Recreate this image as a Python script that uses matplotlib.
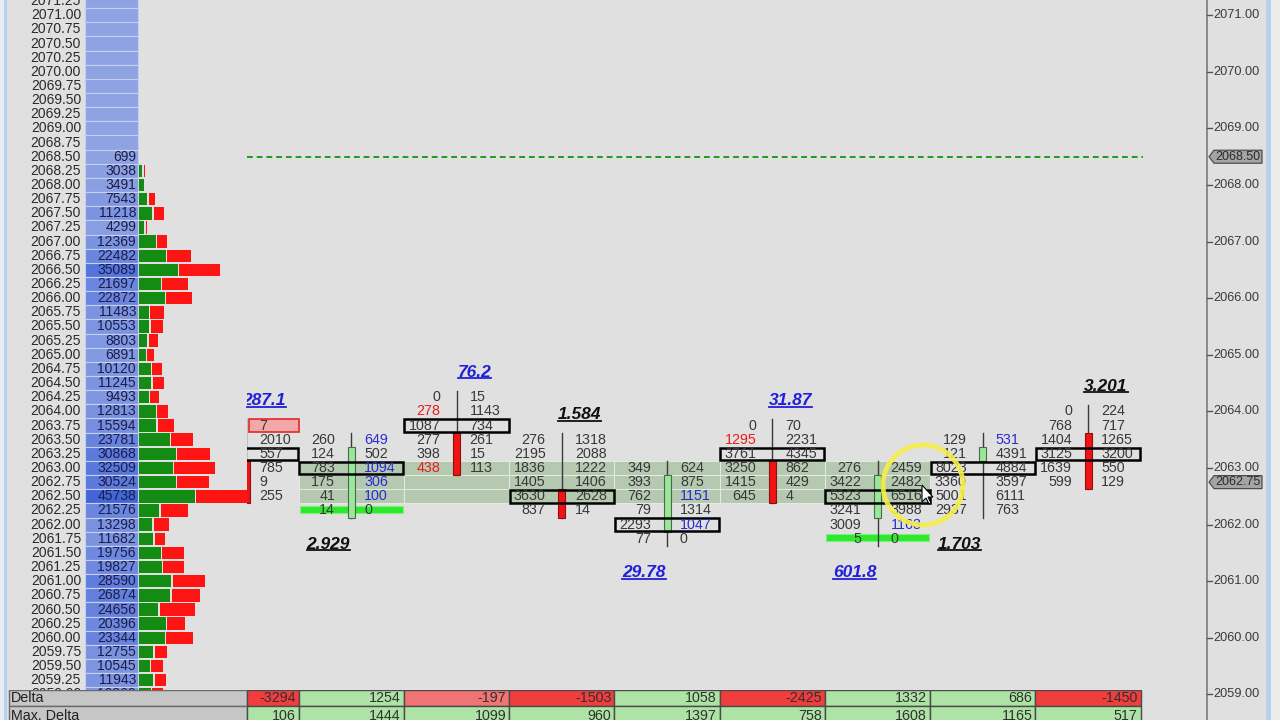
import matplotlib
matplotlib.use('Agg')
import matplotlib.pyplot as plt
from matplotlib.patches import Rectangle, Polygon, Ellipse
from matplotlib.lines import Line2D
from matplotlib.transforms import IdentityTransform
import numpy as np

plt.rcParams['font.family'] = ['Liberation Sans', 'DejaVu Sans']

# price scale of the screen: 2063.00 sits at pixel row 468, 56.6 px per point
TICK = 0.25
PX_PER_PT = 56.6
REF_PRICE, REF_PX = 2063.0, 468
P_TOP = REF_PRICE + REF_PX / PX_PER_PT
P_BOT = REF_PRICE - (720 - REF_PX) / PX_PER_PT

def py2p(py):
    return REF_PRICE - (py - REF_PX) / PX_PER_PT

# ---------------- volume profile (left) ----------------
prof_top_empty = 2071.25          # rows above the traded range, no volume
prof_first = 2068.50              # first traded price, then going down
prof_vol = [699, 3038, 3491, 7543, 11218, 4299, 12369, 22482, 35089, 21697,
            22872, 11483, 10553, 8803, 6891, 10120, 11245, 9493, 12813, 15594,
            23781, 30868, 32509, 30524, 45738, 21576, 13298, 11682, 19756, 19827,
            28590, 26874, 24656, 20396, 23344, 12755, 10545, 11943, 10860]
prof_buy = [0, 1400, 2270, 3560, 5580, 2270, 7120, 11580, 16600, 9310,
            11150, 4160, 4420, 3560, 3000, 5020, 5150, 4160, 7160, 7420,
            13170, 15740, 14460, 15870, 23900, 8710, 5710, 6010, 9310, 9740,
            13860, 13430, 8280, 11580, 11150, 6130, 4590, 6010, 5000]
prof_sell = [0, 560, 200, 2700, 4590, 730, 4290, 9870, 17590, 11280,
             11030, 6130, 5020, 3990, 2700, 3990, 5020, 3990, 4850, 6990,
             9440, 14160, 17590, 13730, 21580, 11710, 6560, 4420, 9310, 9010,
             13730, 12140, 15140, 7720, 11450, 5280, 5020, 4850, 4500]

# ---------------- footprint bars ----------------
bar_top = [2063.75, 2063.50, 2064.25, 2063.50, 2063.00, 2063.75, 2063.00, 2063.50, 2064.00]
bar_bid = [[None] * 6,
           [260, 124, 783, 175, 41, 14],
           [0, 278, 1087, 277, 398, 438],
           [276, 2195, 1836, 1405, 3630, 837],
           [349, 393, 762, 79, 2293, 77],
           [0, 1295, 3761, 3250, 1415, 645],
           [276, 3422, 5323, 3241, 3009, 5],
           [129, 121, 8023, 3360, 5001, 2937],
           [0, 768, 1404, 3125, 1639, 599]]
bar_ask = [[7, 2010, 557, 785, 9, 255],
           [649, 502, 1094, 306, 100, 0],
           [15, 1143, 734, 261, 15, 113],
           [1318, 2088, 1222, 1406, 2628, 14],
           [624, 875, 1151, 1314, 1047, 0],
           [70, 2231, 4345, 862, 429, 4],
           [2459, 2482, 6516, 3988, 1163, 0],
           [531, 4391, 4884, 3597, 6111, 763],
           [224, 717, 1265, 3200, 550, 129]]
bar_open = [2063.00, 2062.25, 2063.50, 2062.50, 2062.00, 2063.00, 2062.25, 2063.25, 2063.50]
bar_close = [2062.50, 2063.25, 2063.00, 2062.25, 2062.75, 2062.50, 2062.75, 2063.25, 2062.75]
bar_poc = [2063.25, 2063.00, 2063.75, 2062.50, 2062.00, 2063.25, 2062.50, 2063.00, 2063.25]
bar_label = ['287.1', '2.929', '76.2', '1.584', '29.78', '31.87', '601.8', '1.703', '3.201']
bar_label_blue = [True, False, True, False, True, True, True, False, False]
bar_label_above = [True, False, True, True, False, True, False, False, True]

red_cells = [(2, 'bid', 1), (2, 'bid', 5), (5, 'bid', 1)]
blue_cells = [(1, 'ask', 0), (1, 'ask', 2), (1, 'ask', 3), (1, 'ask', 4),
              (4, 'ask', 2), (4, 'ask', 4), (6, 'ask', 4), (7, 'ask', 0)]
imbalance_cells = [(0, 'ask', 0)]
low_strips = [(1, 5), (6, 5)]
shaded_bars = [1, 2, 3, 4, 5, 6]
shaded_prices = [2063.00, 2062.75, 2062.50]

delta = [-3294, 1254, -197, -1503, 1058, -2425, 1332, 686, -1450]
max_delta = [106, 1444, 1099, 960, 1397, 758, 1608, 1165, 517]

axis_prices = [2059, 2060, 2061, 2062, 2063, 2064, 2065, 2066, 2067, 2068, 2069, 2070, 2071]
marker_prices = [2068.50, 2062.75]
session_line = 2068.50

BG = '#e0e0e0'
X0_BAR, BAR_W = 246.0, 105.25
FP_LEFT, FP_RIGHT = 247, 1207

fig = plt.figure(figsize=(12.8, 7.2), dpi=100)
fig.patch.set_facecolor(BG)
ax = fig.add_axes([0, 0, 1, 1])
ax.set_xlim(0, 1280); ax.set_ylim(P_BOT, P_TOP); ax.axis('off')
ax_fp = fig.add_axes([FP_LEFT / 1280, 0, (FP_RIGHT - FP_LEFT) / 1280, 1])
ax_fp.set_xlim(FP_LEFT, FP_RIGHT); ax_fp.set_ylim(P_BOT, P_TOP); ax_fp.axis('off')
ax_fp.patch.set_alpha(0)

# window edges
ax.add_patch(Rectangle((0, P_BOT), 4, P_TOP - P_BOT, color='#e8eef6', lw=0))
ax.add_patch(Rectangle((4, P_BOT), 3, P_TOP - P_BOT, color='#b8d0ec', lw=0))
ax.add_patch(Rectangle((1266, P_BOT), 5, P_TOP - P_BOT, color='#b8d0ec', lw=0))
ax.add_patch(Rectangle((1271, P_BOT), 9, P_TOP - P_BOT, color='#ececec', lw=0))

# ---- profile ----
PROF_SCALE = 1 / 429.0
light = np.array([0.56, 0.64, 0.89])
dark = np.array([0.26, 0.40, 0.85])
vmax = max(prof_vol)
p = prof_top_empty
while p > prof_first + 1e-9:
    ax.add_patch(Rectangle((85, p - TICK / 2), 53, TICK, fc=light, ec='#c6d0ee', lw=0.8))
    ax.text(81, p, '%.2f' % p, ha='right', va='center', fontsize=10, color='#2a2a2a')
    p -= TICK
for i, v in enumerate(prof_vol):
    p = prof_first - i * TICK
    f = v / vmax
    ax.add_patch(Rectangle((85, p - TICK / 2), 53, TICK, fc=light * (1 - f) + dark * f,
                           ec='#c6d0ee', lw=0.8))
    ax.text(81, p, '%.2f' % p, ha='right', va='center', fontsize=10, color='#2a2a2a')
    ax.text(136, p, str(v), ha='right', va='center', fontsize=10, color='#1c1c48')
    gw = prof_buy[i] * PROF_SCALE
    rw = prof_sell[i] * PROF_SCALE
    if gw > 0:
        ax.add_patch(Rectangle((139, p - 0.11), gw, 0.22, fc='#148c14', lw=0))
    if rw > 0:
        ax.add_patch(Rectangle((139 + gw + 1.5, p - 0.11), rw, 0.22, fc='#ff1414', lw=0))

# ---- footprint ----
ax_fp.plot([FP_LEFT, 1143], [session_line, session_line], color='#1f9a1f', lw=1.4,
           ls=(0, (3, 2)))

for b in shaded_bars:
    cx = X0_BAR + b * BAR_W
    for sp in shaded_prices:
        ax_fp.add_patch(Rectangle((cx - BAR_W / 2, sp - TICK / 2), BAR_W, TICK,
                                  fc='#b5c9b1', ec='#e4ebe2', lw=0.7))

for b, r in low_strips:
    cx = X0_BAR + b * BAR_W
    pr = bar_top[b] - r * TICK
    ax_fp.add_patch(Rectangle((cx - BAR_W / 2 + 1, pr - 0.045), BAR_W - 2, 0.125,
                              fc='#2ee82e', ec='#7ef07e', lw=0.8))

for b, side, r in imbalance_cells:
    cx = X0_BAR + b * BAR_W
    pr = bar_top[b] - r * TICK
    ax_fp.add_patch(Rectangle((cx + 3, pr - 0.12), BAR_W / 2 - 3, 0.24,
                              fc='#f2a8a8', ec='#e02828', lw=1.2))

text_labels = []
for b in range(len(bar_top)):
    cx = X0_BAR + b * BAR_W
    hi = bar_top[b]
    lo = hi - (len(bar_ask[b]) - 1) * TICK
    o, c = bar_open[b], bar_close[b]
    up = c >= o
    # wick and body
    ax_fp.plot([cx, cx], [hi + 0.115, lo - 0.125], color='#3a3a3a', lw=1, zorder=3)
    top_b, bot_b = max(o, c) + TICK / 2, min(o, c) - TICK / 2
    ax_fp.add_patch(Rectangle((cx - 3.5, bot_b), 7, top_b - bot_b,
                              fc='#9ae69a' if up else '#f01414',
                              ec='#4a6a4a' if up else '#901010', lw=0.8, zorder=4))
    # poc box
    ax_fp.add_patch(Rectangle((cx - BAR_W / 2 + 0.5, bar_poc[b] - 0.11), BAR_W - 1, 0.22,
                              fill=False, ec='#000000', lw=1.8, zorder=5))
    for r in range(len(bar_ask[b])):
        pr = hi - r * TICK
        for side, vals, xx, ha in (('bid', bar_bid[b], cx - 16, 'right'),
                                   ('ask', bar_ask[b], cx + 13, 'left')):
            v = vals[r]
            if v is None:
                continue
            col = '#383838'
            if (b, side, r) in red_cells:
                col = '#e81c1c'
            elif (b, side, r) in blue_cells:
                col = '#2a2ad0'
            ax_fp.text(xx, pr, str(v), ha=ha, va='center', fontsize=10.3, color=col,
                       clip_on=True, zorder=6)
    # statistic label above / below
    lab_col = '#2020d8' if bar_label_blue[b] else '#101010'
    if bar_label_above[b]:
        t = ax_fp.text(cx + 18, hi + 0.44, bar_label[b], ha='center', va='center',
                       fontsize=12.5, fontweight='bold', fontstyle='italic',
                       color=lab_col, clip_on=True)
    else:
        t = ax_fp.text(cx - 23, lo - 0.6, bar_label[b], ha='center', va='center',
                       fontsize=12.5, fontweight='bold', fontstyle='italic',
                       color=lab_col, clip_on=True)
    text_labels.append(t)

# cursor highlight ring and arrow
ax_fp.add_patch(Ellipse((923, py2p(485)), 80, 80 / PX_PER_PT, fill=False,
                        ec='#f4ee48', lw=3.5, alpha=0.9, zorder=8))
arrow = [(0, 0), (0, 17), (4, 13), (7, 19), (9, 18), (6, 12), (11, 12)]
ax_fp.add_patch(Polygon([(922 + ax_, py2p(485 + ay)) for ax_, ay in arrow],
                        fc='white', ec='black', lw=0.8, zorder=9))

# ---- right price axis ----
ax.plot([1207, 1207], [P_BOT, P_TOP], color='#7a7a7a', lw=1.2)
for pa in axis_prices:
    ax.plot([1207, 1212], [pa, pa], color='#555555', lw=1)
    ax.text(1213, pa, '%.2f' % pa, ha='left', va='center', fontsize=9.2, color='#3a3a3a')
for mp in marker_prices:
    h = 0.115
    ax.add_patch(Polygon([(1209, mp), (1214, mp + h), (1262, mp + h), (1262, mp - h),
                          (1214, mp - h)], fc='#a4a4a4', ec='#404040', lw=0.8, zorder=5))
    ax.text(1215, mp, '%.2f' % mp, ha='left', va='center', fontsize=9,
            color='#2a2a2a', zorder=6)

# ---- bottom table ----
ax_tab = fig.add_axes([0, 0, 1, 30 / 720])
ax_tab.set_xlim(0, 1280); ax_tab.set_ylim(720, 690); ax_tab.axis('off')
ax_tab.patch.set_alpha(0)
rows = [('Delta', delta, 690, 8.5), ('Max. Delta', max_delta, 706, 10.5)]
for name, vals, y0, dy in rows:
    ax_tab.add_patch(Rectangle((9, y0), FP_LEFT - 9, 16, fc='#c6c6c6', ec='#6a6a6a', lw=1))
    ax_tab.text(11, y0 + dy, name, ha='left', va='center', fontsize=10.3, color='#202020')
    for b, v in enumerate(vals):
        cx = X0_BAR + b * BAR_W
        x0 = max(cx - BAR_W / 2, FP_LEFT)
        x1 = cx + BAR_W / 2
        if v >= 0 or name != 'Delta':
            fc = '#aee3a6'
        else:
            k = min(1.0, abs(v) / 600.0)
            fc = np.array([0.94, 0.56, 0.56]) * (1 - k) + np.array([0.95, 0.24, 0.24]) * k
        ax_tab.add_patch(Rectangle((x0, y0), x1 - x0, 16, fc=fc, ec='#4a4a4a', lw=1))
        ax_tab.text(x1 - 3, y0 + dy, str(v), ha='right', va='center', fontsize=10.3,
                    color='#303030')

# underline the bar statistics
fig.canvas.draw()
rend = fig.canvas.get_renderer()
for t in text_labels:
    bb = t.get_window_extent(rend)
    x0 = max(bb.x0, FP_LEFT)
    fig.add_artist(Line2D([x0, bb.x1], [bb.y0 + 1.5, bb.y0 + 1.5], color=t.get_color(),
                          lw=1.3, transform=IdentityTransform()))

fig.savefig('out.png', dpi=100, facecolor=BG)
